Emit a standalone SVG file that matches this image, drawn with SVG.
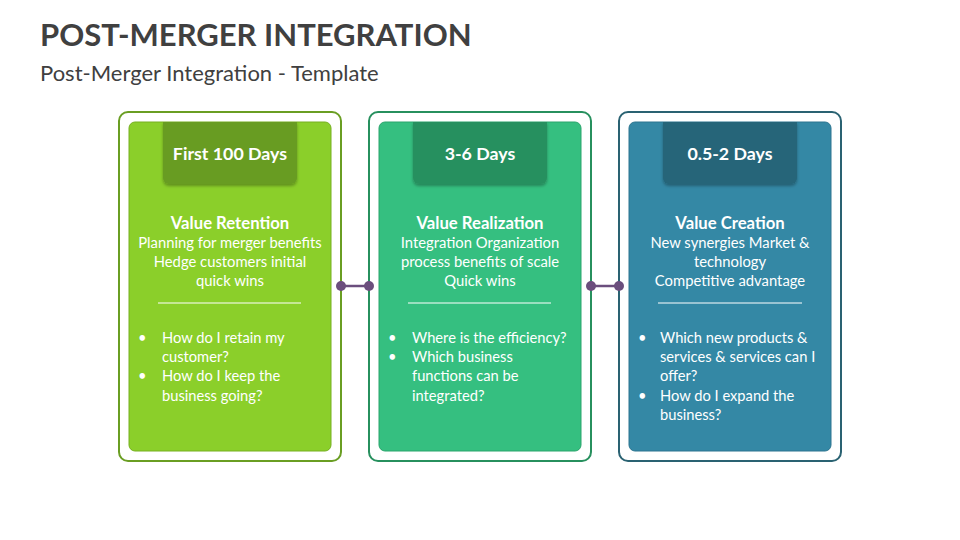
<svg xmlns="http://www.w3.org/2000/svg" width="960" height="540" viewBox="0 0 960 540">
<defs>
<filter id="sh" x="-10%" y="-10%" width="120%" height="130%">
<feDropShadow dx="0" dy="2" stdDeviation="1.5" flood-color="#000" flood-opacity="0.3"/>
</filter>
<style>
text{font-family:Lato,"Open Sans","Liberation Sans",sans-serif;fill:#fff}
.t{font-size:31px;font-weight:700;fill:#404040}
.st{font-size:22px;fill:#404040}
.h{font-size:17.8px;font-weight:700;text-anchor:middle}
.s{font-size:16.7px;font-weight:700;text-anchor:middle}
.c{font-size:14.8px;text-anchor:middle}
.b{font-size:14.7px}
.out{fill:#fff;stroke-width:2}
.div{stroke:#fff;stroke-width:1}
.dot{fill:#6b4e7d}
.ln{stroke:#6b4e7d;stroke-width:2.5}
</style>
</defs>
<text class="t" x="40" y="46">POST-MERGER INTEGRATION</text>
<text class="st" x="40" y="81">Post-Merger Integration - Template</text>

<g id="card1">
<rect class="out" x="119" y="112" width="222" height="349" rx="9" stroke="#6a9e23"/>
<rect x="129" y="122" width="202" height="329" rx="6" fill="#8bcf2a" stroke="#76b020" stroke-width="1"/>
<path d="M163 122 H297 V178 a6 6 0 0 1 -6 6 H169 a6 6 0 0 1 -6 -6 Z" fill="#679c21" filter="url(#sh)"/>
<text class="h" x="230" y="160">First 100 Days</text>
<text class="s" x="230" y="229">Value Retention</text>
<text class="c" x="230" y="248">Planning for merger benefits</text>
<text class="c" x="230" y="267">Hedge customers initial</text>
<text class="c" x="230" y="286">quick wins</text>
<line class="div" x1="158" y1="303" x2="301" y2="303"/>
<text class="b" x="138" y="343">•</text><text class="b" x="162" y="343">How do I retain my</text>
<text class="b" x="162" y="362">customer?</text>
<text class="b" x="138" y="381">•</text><text class="b" x="162" y="381">How do I keep the</text>
<text class="b" x="162" y="401">business going?</text>
</g>

<g id="card2">
<rect class="out" x="369" y="112" width="222" height="349" rx="9" stroke="#27905e"/>
<rect x="379" y="122" width="202" height="329" rx="6" fill="#35bf80" stroke="#2aa56c" stroke-width="1"/>
<path d="M413 122 H547 V178 a6 6 0 0 1 -6 6 H419 a6 6 0 0 1 -6 -6 Z" fill="#28905f" filter="url(#sh)"/>
<text class="h" x="480" y="160">3-6 Days</text>
<text class="s" x="480" y="229">Value Realization</text>
<text class="c" x="480" y="248">Integration Organization</text>
<text class="c" x="480" y="267">process benefits of scale</text>
<text class="c" x="480" y="286">Quick wins</text>
<line class="div" x1="408" y1="303" x2="551" y2="303"/>
<text class="b" x="388" y="343">•</text><text class="b" x="412" y="343">Where is the efficiency?</text>
<text class="b" x="388" y="362">•</text><text class="b" x="412" y="362">Which business</text>
<text class="b" x="412" y="381">functions can be</text>
<text class="b" x="412" y="401">integrated?</text>
</g>

<g id="card3">
<rect class="out" x="619" y="112" width="222" height="349" rx="9" stroke="#2a6272"/>
<rect x="629" y="122" width="202" height="329" rx="6" fill="#3488a5" stroke="#2c7590" stroke-width="1"/>
<path d="M663 122 H797 V178 a6 6 0 0 1 -6 6 H669 a6 6 0 0 1 -6 -6 Z" fill="#256579" filter="url(#sh)"/>
<text class="h" x="730" y="160">0.5-2 Days</text>
<text class="s" x="730" y="229">Value Creation</text>
<text class="c" x="730" y="248">New synergies Market &amp;</text>
<text class="c" x="730" y="267">technology</text>
<text class="c" x="730" y="286">Competitive advantage</text>
<line class="div" x1="658" y1="303" x2="802" y2="303"/>
<text class="b" x="638" y="343">•</text><text class="b" x="660" y="343">Which new products &amp;</text>
<text class="b" x="660" y="362">services &amp; services can I</text>
<text class="b" x="660" y="381">offer?</text>
<text class="b" x="638" y="401">•</text><text class="b" x="660" y="401">How do I expand the</text>
<text class="b" x="660" y="420">business?</text>
</g>

<g id="connectors">
<line class="ln" x1="341" y1="286" x2="369" y2="286"/>
<circle class="dot" cx="341" cy="286" r="5"/>
<circle class="dot" cx="369" cy="286" r="5"/>
<line class="ln" x1="591" y1="286" x2="619" y2="286"/>
<circle class="dot" cx="591" cy="286" r="5"/>
<circle class="dot" cx="619" cy="286" r="5"/>
</g>
</svg>
